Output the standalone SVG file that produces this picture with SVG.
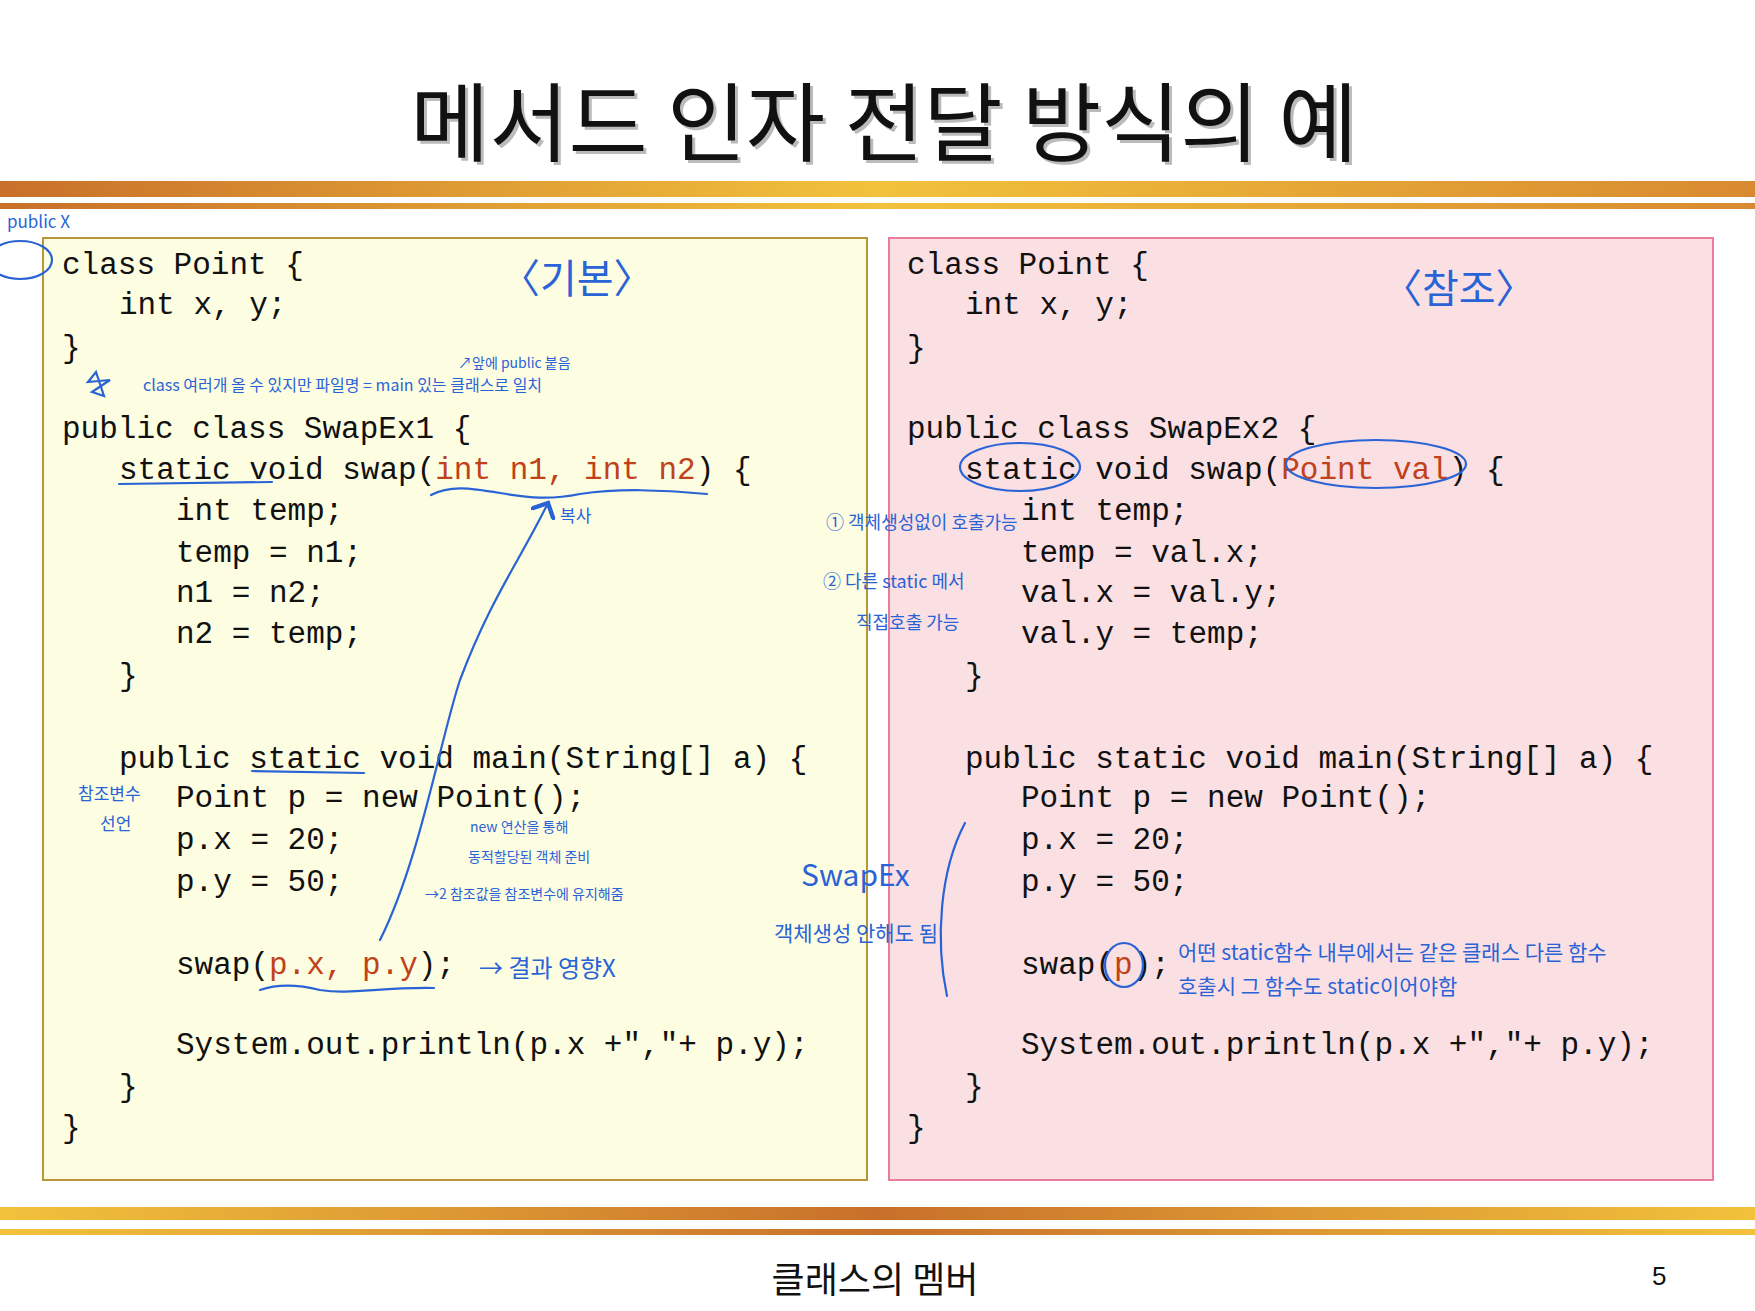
<svg xmlns="http://www.w3.org/2000/svg" width="1755" height="1311" viewBox="0 0 1755 1311">
<defs>
<linearGradient id="gTop" x1="0" x2="1" y1="0" y2="0"><stop offset="0" stop-color="#c8702a"/><stop offset="0.5" stop-color="#f2c23c"/><stop offset="1" stop-color="#d88a30"/></linearGradient>
<linearGradient id="gBot" x1="0" x2="1" y1="0" y2="0"><stop offset="0" stop-color="#f2c23c"/><stop offset="0.5" stop-color="#c8702a"/><stop offset="1" stop-color="#f2c23c"/></linearGradient>
<marker id="ah" markerWidth="12" markerHeight="12" refX="6" refY="6" orient="auto"><path d="M0,0 L6,6 L0,12" fill="none" stroke="#2a63d6" stroke-width="2"/></marker>
</defs>
<style>
.code{font-family:"Liberation Mono","DejaVu Sans Mono",monospace;font-size:31px;fill:#111;white-space:pre}
.or{fill:#c0421a}
.hw{font-family:"Noto Sans CJK KR","Noto Sans",sans-serif;fill:#2a63d6}
.pen{fill:none;stroke:#2a63d6;stroke-width:2.2;stroke-linecap:round}
</style>
<rect width="1755" height="1311" fill="#fff"/>
<g id="title">
<text x="887" y="158" text-anchor="middle" font-family="Noto Sans CJK KR,sans-serif" font-size="86" fill="#bbb">메서드 인자 전달 방식의 예</text>
<text x="884" y="155" text-anchor="middle" font-family="Noto Sans CJK KR,sans-serif" font-size="86" fill="#111">메서드 인자 전달 방식의 예</text>
</g>
<rect x="0" y="181" width="1755" height="16" fill="url(#gTop)"/>
<rect x="0" y="203" width="1755" height="6" fill="url(#gTop)"/>
<rect x="0" y="1207" width="1755" height="13" fill="url(#gBot)"/>
<rect x="0" y="1229" width="1755" height="6" fill="url(#gBot)"/>
<text x="875" y="1293" text-anchor="middle" font-family="Noto Sans CJK KR,sans-serif" font-size="36" fill="#111">클래스의 멤버</text>
<text x="1652" y="1285" font-family="Liberation Sans,sans-serif" font-size="26" fill="#111">5</text>

<g id="left">
<rect x="43" y="238" width="824" height="942" fill="#fdfde2" stroke="#b8963a" stroke-width="2"/>
<text class="code" x="62" y="274">class Point {</text>
<text class="code" x="119" y="314">int x, y;</text>
<text class="code" x="62" y="357">}</text>
<text class="code" x="62" y="438">public class SwapEx1 {</text>
<text class="code" x="119" y="479">static void swap(<tspan class="or">int n1, int n2</tspan>) {</text>
<text class="code" x="176" y="520">int temp;</text>
<text class="code" x="176" y="562">temp = n1;</text>
<text class="code" x="176" y="602">n1 = n2;</text>
<text class="code" x="176" y="643">n2 = temp;</text>
<text class="code" x="119" y="685">}</text>
<text class="code" x="119" y="768">public static void main(String[] a) {</text>
<text class="code" x="176" y="807">Point p = new Point();</text>
<text class="code" x="176" y="849">p.x = 20;</text>
<text class="code" x="176" y="891">p.y = 50;</text>
<text class="code" x="176" y="974">swap(<tspan class="or">p.x, p.y</tspan>);</text>
<text class="code" x="176" y="1054">System.out.println(p.x +","+ p.y);</text>
<text class="code" x="119" y="1096">}</text>
<text class="code" x="62" y="1137">}</text>
</g>

<g id="right">
<rect x="889" y="238" width="824" height="942" fill="#fadfe3" stroke="#e87c99" stroke-width="2"/>
<text class="code" x="907" y="274">class Point {</text>
<text class="code" x="965" y="314">int x, y;</text>
<text class="code" x="907" y="357">}</text>
<text class="code" x="907" y="438">public class SwapEx2 {</text>
<text class="code" x="965" y="479">static void swap(<tspan class="or">Point val</tspan>) {</text>
<text class="code" x="1021" y="520">int temp;</text>
<text class="code" x="1021" y="562">temp = val.x;</text>
<text class="code" x="1021" y="602">val.x = val.y;</text>
<text class="code" x="1021" y="643">val.y = temp;</text>
<text class="code" x="965" y="685">}</text>
<text class="code" x="965" y="768">public static void main(String[] a) {</text>
<text class="code" x="1021" y="807">Point p = new Point();</text>
<text class="code" x="1021" y="849">p.x = 20;</text>
<text class="code" x="1021" y="891">p.y = 50;</text>
<text class="code" x="1021" y="974">swap(<tspan class="or">p</tspan>);</text>
<text class="code" x="1021" y="1054">System.out.println(p.x +","+ p.y);</text>
<text class="code" x="965" y="1096">}</text>
<text class="code" x="907" y="1137">}</text>
</g>

<g id="connectors">
<ellipse class="pen" cx="20" cy="260" rx="32" ry="19"/>
<ellipse class="pen" cx="1020" cy="467" rx="60" ry="24"/>
<ellipse class="pen" cx="1376" cy="464" rx="90" ry="24"/>
<ellipse class="pen" cx="1124" cy="965" rx="19" ry="22"/>
<path class="pen" d="M119,484 L272,482"/>
<path class="pen" d="M431,495 C450,485 470,488 500,493 C530,498 550,500 580,494 C620,488 660,490 707,494"/>
<path class="pen" d="M252,771 L364,773"/>
<path class="pen" d="M260,990 C280,983 300,985 320,990 C350,995 380,987 434,988"/>
<path class="pen" d="M380,940 C420,860 440,740 460,680 C490,600 520,560 548,503" marker-end="url(#ah)"/>
<path class="pen" d="M965,823 C940,870 935,940 947,996"/>
<path class="pen" d="M96,372 L104,396 L92,392 L110,380 L88,382 Z"/>
</g>

<g id="notes">
<text class="hw" x="7" y="228" font-size="17">public X</text>
<text class="hw" x="500" y="293" font-size="40">〈기본〉</text>
<text class="hw" x="1382" y="303" font-size="40">〈참조〉</text>
<text class="hw" x="143" y="391" font-size="16">class 여러개 올 수 있지만  파일명 = main 있는 클래스로 일치</text>
<text class="hw" x="458" y="368" font-size="14">↗앞에 public 붙음</text>
<text class="hw" x="560" y="522" font-size="17">복사</text>
<text class="hw" x="78" y="800" font-size="17">참조변수</text>
<text class="hw" x="100" y="830" font-size="17">선언</text>
<text class="hw" x="470" y="832" font-size="14">new 연산을 통해</text>
<text class="hw" x="468" y="862" font-size="14">동적할당된 객체 준비</text>
<text class="hw" x="425" y="899" font-size="14">→2 참조값을 참조변수에 유지해줌</text>
<text class="hw" x="479" y="977" font-size="24">→ 결과 영향X</text>
<text class="hw" x="826" y="529" font-size="18">① 객체생성없이 호출가능</text>
<text class="hw" x="823" y="588" font-size="18">② 다른  static 메서</text>
<text class="hw" x="856" y="629" font-size="18">직접호출 가능</text>
<text class="hw" x="801" y="886" font-size="30">SwapEx</text>
<text class="hw" x="774" y="941" font-size="21">객체생성 안해도 됨</text>
<text class="hw" x="1178" y="960" font-size="21">어떤 static함수 내부에서는 같은 클래스 다른 함수</text>
<text class="hw" x="1178" y="994" font-size="21">호출시 그 함수도 static이어야함</text>
</g>
</svg>
